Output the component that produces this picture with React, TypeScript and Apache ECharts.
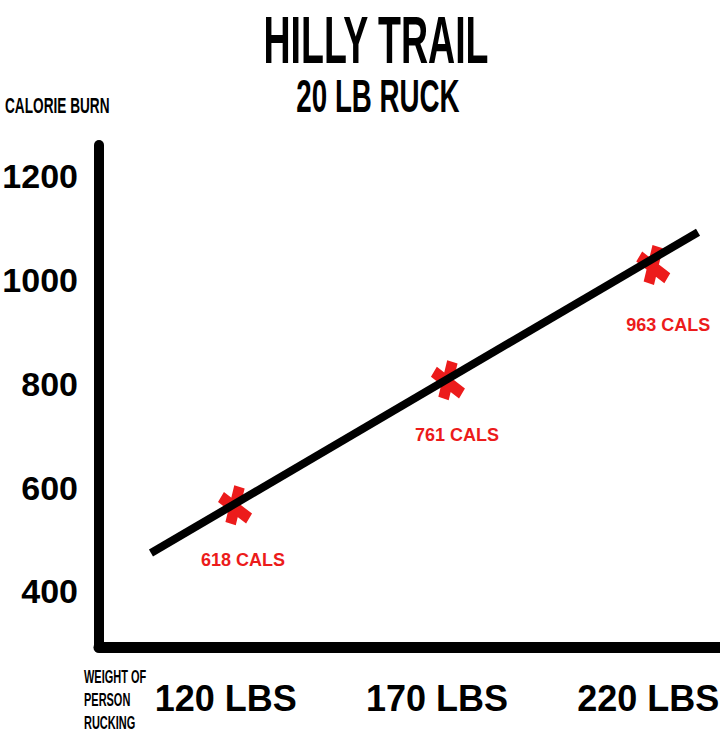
import { useEffect, useRef } from 'react';
import * as echarts from 'echarts';

// weight of the person rucking (lbs) on x, calories on y
const weightTicks = [120, 170, 220];
const weightLabels = ['120 LBS', '170 LBS', '220 LBS'];
const calorieTicks = [400, 600, 800, 1000, 1200];

// the black trend line, start and end
const trendWeights = [102.3, 231.8];
const trendCalories = [474, 1092];

// red crosses as drawn and their captions
const markWeights = [122.2, 172.6, 221.2];
const markCalories = [566, 807, 1029];
const markLabels = ['618 CALS', '761 CALS', '963 CALS'];
const markLabelOffsets = [[8, 0], [9, 0], [15, 5]];

const FONT = "'Liberation Sans', Arial, sans-serif";
const RED = '#ec1b1b';
const CROSS = 'path://M48,2L76,10L52,98L24,90ZM20,18L96,70L80,94L4,42Z';

const caption = (text: string, x: number, y: number, size: number, sx: number, align = 'center') => ({
  type: 'text',
  x,
  y,
  scaleX: sx,
  style: {
    text,
    fill: '#000',
    font: `bold ${size}px ${FONT}`,
    align,
    verticalAlign: 'middle',
    lineHeight: size * 1.3,
  },
});

export default function App() {
  const ref = useRef<HTMLDivElement>(null);

  useEffect(() => {
    if (!ref.current) return;
    const chart = echarts.init(ref.current, null, { renderer: 'svg' });
    chart.setOption({
      animation: false,
      backgroundColor: '#fff',
      grid: { left: 99, right: 0, top: 145, bottom: 99, outerBoundsMode: 'none' },
      xAxis: {
        type: 'value',
        min: 90,
        max: 237,
        splitLine: { show: false },
        axisTick: { show: false },
        axisLine: { lineStyle: { color: '#000', width: 11 } },
        axisLabel: {
          customValues: weightTicks,
          formatter: (v: number) => weightLabels[weightTicks.indexOf(v)] ?? '',
          color: '#000',
          fontFamily: FONT,
          fontWeight: 'bold',
          fontSize: 36,
          margin: 33,
        },
      },
      yAxis: {
        type: 'value',
        min: 293,
        max: 1260,
        splitLine: { show: false },
        axisTick: { show: false },
        axisLine: { lineStyle: { color: '#000', width: 10 } },
        axisLabel: {
          customValues: calorieTicks,
          formatter: (v: number) => String(v),
          color: '#000',
          fontFamily: FONT,
          fontWeight: 'bold',
          fontSize: 34,
          margin: 21,
        },
      },
      graphic: [
        caption('HILLY TRAIL', 376, 40, 67, 0.56),
        caption('20 LB RUCK', 378, 96, 47, 0.59),
        caption('CALORIE BURN', 5, 105, 22, 0.62, 'left'),
        caption('WEIGHT OF\nPERSON\nRUCKING', 84, 700, 18, 0.61, 'left'),
      ],
      series: [
        {
          type: 'line',
          data: trendWeights.map((w, i) => [w, trendCalories[i]]),
          showSymbol: false,
          lineStyle: { color: '#000', width: 8 },
          silent: true,
        },
        {
          type: 'scatter',
          symbol: CROSS,
          symbolSize: [34, 40],
          itemStyle: { color: RED, opacity: 1 },
          data: markWeights.map((w, i) => ({
            value: [w, markCalories[i]],
            label: { offset: markLabelOffsets[i] },
          })),
          label: {
            show: true,
            position: 'bottom',
            distance: 26,
            formatter: (p: any) => markLabels[p.dataIndex],
            color: RED,
            fontFamily: FONT,
            fontWeight: 'bold',
            fontSize: 18,
          },
        },
      ],
    });
    return () => chart.dispose();
  }, []);

  return (
    <div
      ref={ref}
      style={{ position: 'absolute', left: 0, top: 0, width: 720, height: 746 }}
    />
  );
}
